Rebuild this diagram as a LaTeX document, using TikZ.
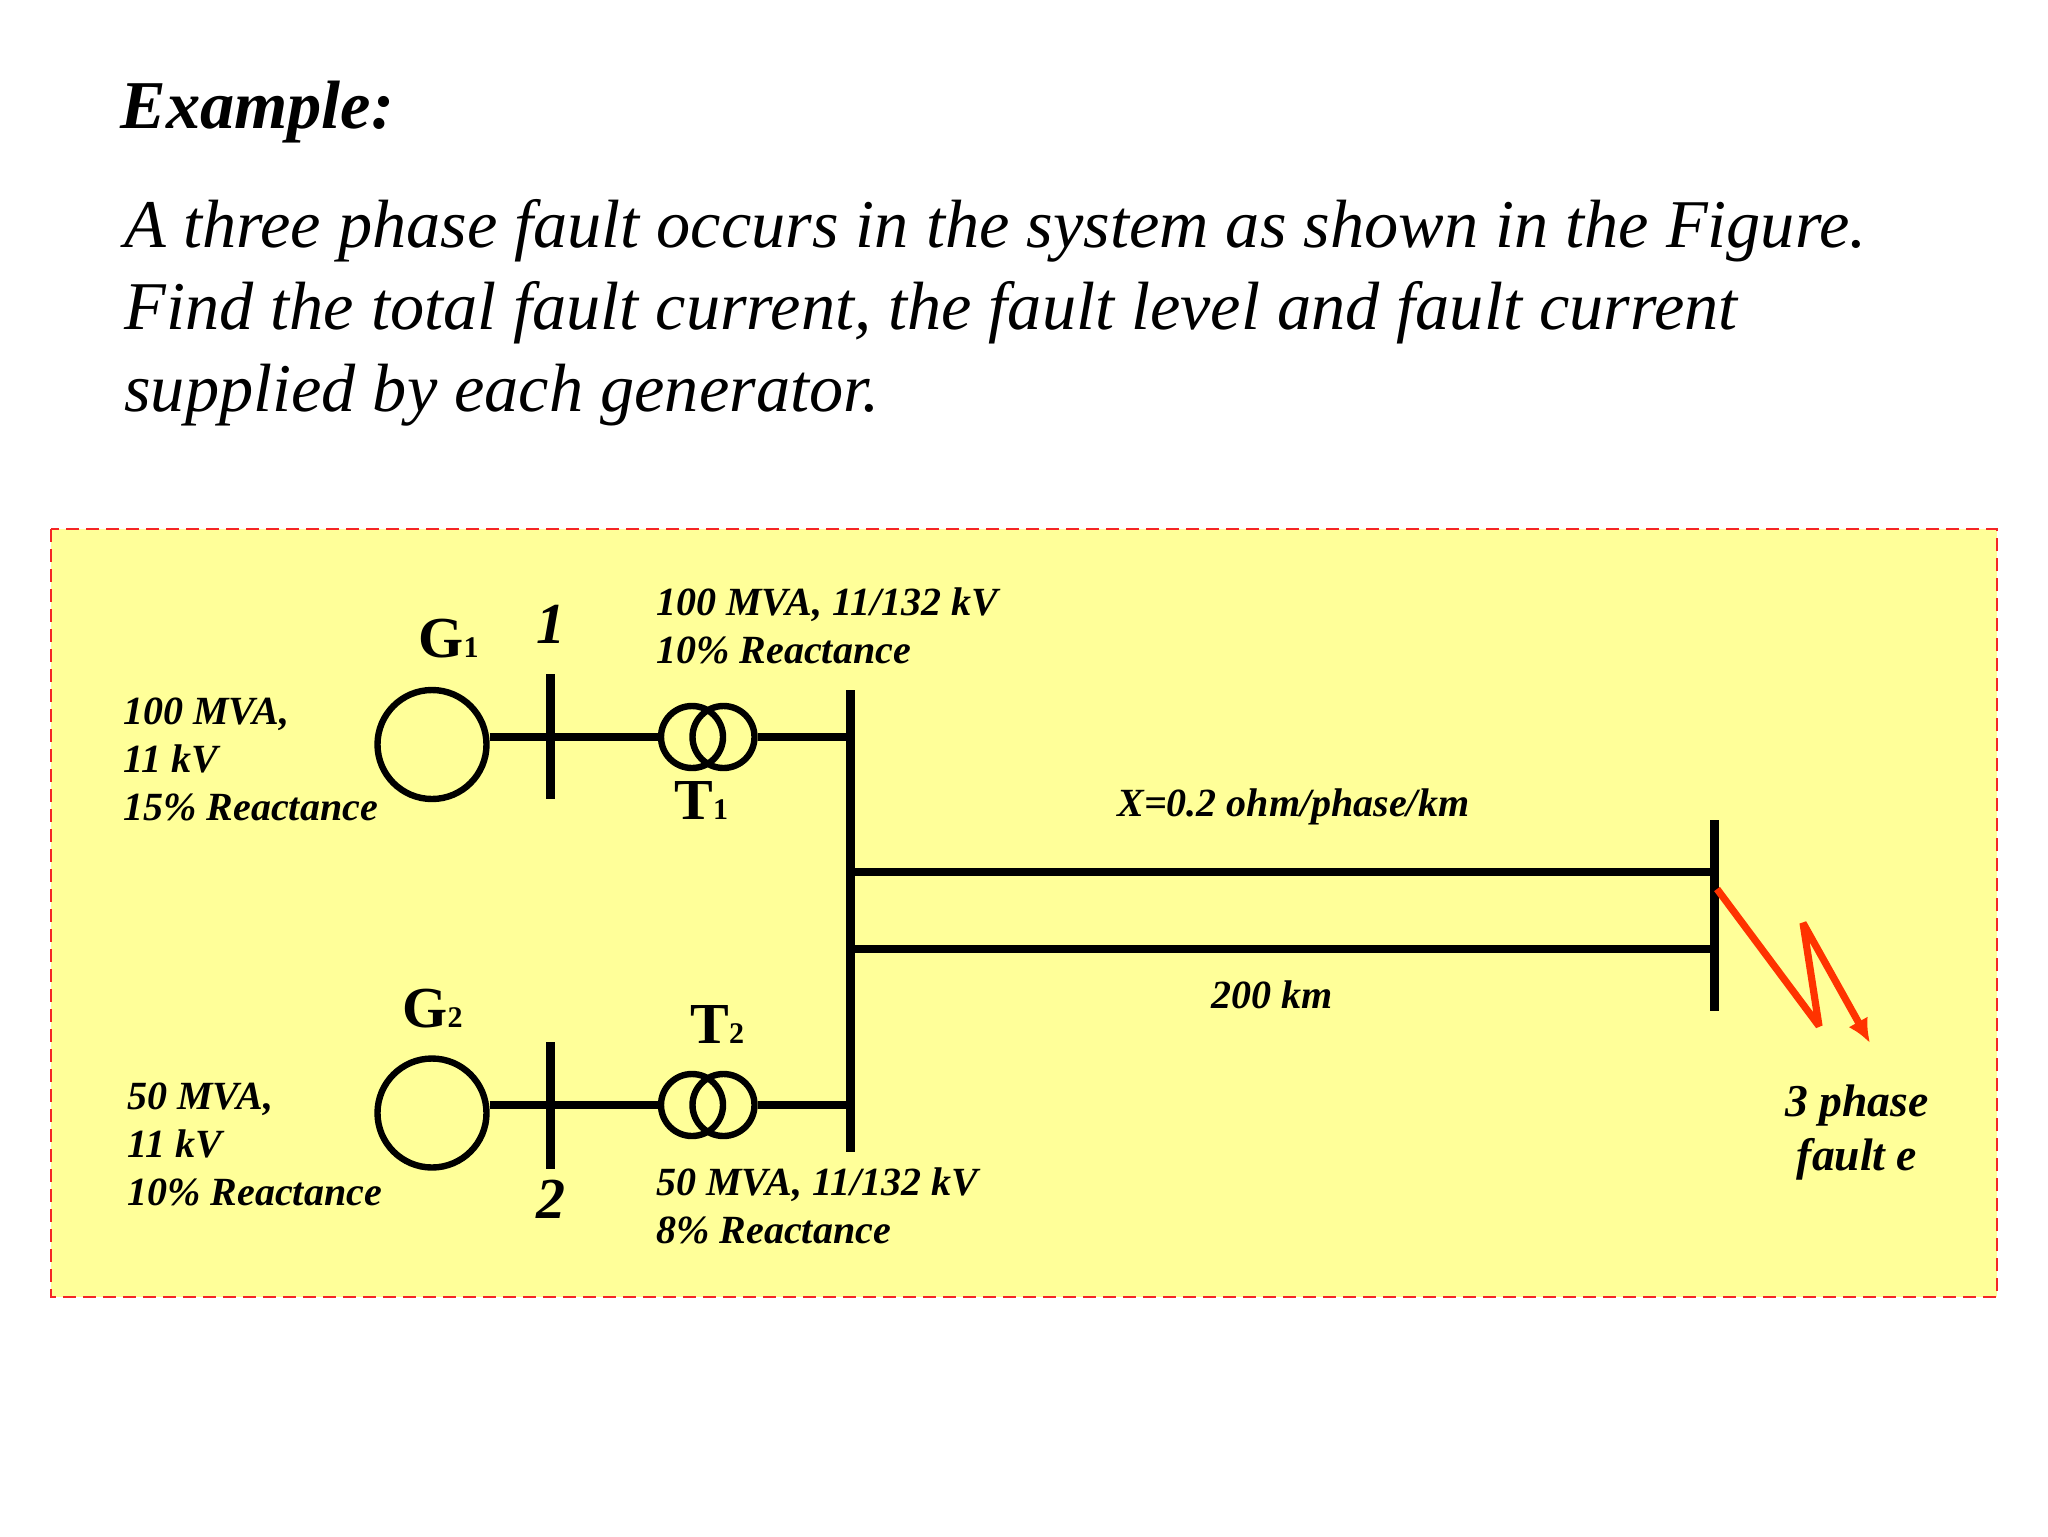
\documentclass[tikz,border=0pt]{standalone}
\usepackage{fontspec}
\usetikzlibrary{arrows.meta}
\setmainfont{Liberation Serif}
\definecolor{panelYellow}{HTML}{FFFF99}
\definecolor{panelRed}{HTML}{F52525}
\definecolor{faultRed}{HTML}{FF3300}
\newcommand{\symlabel}[2]{{\fontsize{29}{29}\selectfont\bfseries #1}{\fontsize{15}{15}\selectfont\bfseries #2}}
\tikzset{
  panel/.style={draw=panelRed, fill=panelYellow, line width=1.2pt, dash pattern=on 6.5pt off 3.5pt},
  wire/.style={line width=4.2pt},
  machine/.style={circle, draw, line width=3.2pt, inner sep=0pt, minimum size=54.5pt},
  winding/.style={circle, draw, line width=3.2pt, inner sep=0pt, minimum size=31pt},
  bar/.style={fill=black, inner sep=0pt, minimum width=4.5pt},
  note/.style={anchor=base west, inner sep=0pt, align=left, font=\fontsize{20}{24}\selectfont\bfseries\itshape},
  busno/.style={anchor=base, inner sep=0pt, font=\fontsize{29}{29}\selectfont\bfseries\itshape},
  sym/.style={anchor=base west, inner sep=0pt},
  fault/.style={draw=faultRed, line width=3.6pt, line join=bevel, -{Latex[length=12pt, width=11pt]}},
}

\begin{document}
\begin{tikzpicture}[x=.5pt, y=-.5pt]
  \useasboundingbox (0, 0) rectangle (2048, 1536);

  \node[anchor=base west, inner sep=0pt, font=\fontsize{34.2}{34.2}\selectfont\bfseries\itshape] (title) at (120, 128) {Example:};
  \node[anchor=base west, inner sep=0pt, align=left, font=\fontsize{34.15}{40.8}\selectfont\itshape] (question) at (124, 411)
    {A three phase fault occurs in the system as shown in the Figure.\\
     Find the total fault current, the fault level and fault current\\
     supplied by each generator.};

  \draw[panel] (51, 529) rectangle (1997, 1297);

  % --
  \node[bar, minimum height=231pt] (busM) at (850.5, 921) {};
  \node[bar, minimum height=95.5pt] (busF) at (1714, 915.5) {};

  \foreach\k/\yT/\yG in {1/737/744.5, 2/1105/1113} {
    \node[machine] (G\k) at (432, \yG) {};
    \node[winding] (T\k a) at (692, \yT) {};
    \node[winding] (T\k b) at (723.5, \yT) {};
    \draw[wire] (G\k.east |- T\k a) -- (T\k a.west);
    \draw[wire] (T\k b.east) -- (T\k b -| busM);
  }

  \node[bar, minimum height=62.5pt] (bus1) at (550.5, 736.5) {};
  \node[bar, minimum height=63.5pt] (bus2) at (550.5, 1105.5) {};

  \coordinate (lineA) at (850, 872);
  \coordinate (lineB) at (850, 949);
  \draw[wire] (lineA) -- (lineA -| busF);
  \draw[wire] (lineB) -- (lineB -| busF);

  \coordinate (f0) at (1717, 889);
  \coordinate (f1) at (1819, 1026);
  \coordinate (f2) at (1803, 923);
  \coordinate (f3) at (1870, 1043);
  \draw[fault] (f0) -- (f1) -- (f2) -- (f3);

  % --
  \node[sym] (nameG1) at (418, 657) {\symlabel{G}{1}};
  \node[sym] (nameG2) at (402, 1027) {\symlabel{G}{2}};
  \node[sym] (nameT1) at (674, 819) {\symlabel{T}{1}};
  \node[sym] (nameT2) at (690, 1043.5) {\symlabel{T}{2}};
  \node[busno] (no1) at (551, 643.5) {1};
  \node[busno] (no2) at (551, 1218) {2};

  \node[note] (noteG1) at (123, 820) {100 MVA,\\11 kV\\15\% Reactance};
  \node[note] (noteG2) at (127, 1205) {50 MVA,\\11 kV\\10\% Reactance};
  \node[note] (noteT1) at (656, 663) {100 MVA, 11/132 kV\\10\% Reactance};
  \node[note] (noteT2) at (656, 1243) {50 MVA, 11/132 kV\\8\% Reactance};
  \node[note] (noteX) at (1117, 816) {X=0.2 ohm/phase/km};
  \node[note] (noteLen) at (1211, 1008) {200 km};
  \node[note, align=center, anchor=base, font=\fontsize{22.8}{27}\selectfont\bfseries\itshape] (noteF) at (1857, 1170) {3 phase\\fault e};

\end{tikzpicture}
\end{document}
